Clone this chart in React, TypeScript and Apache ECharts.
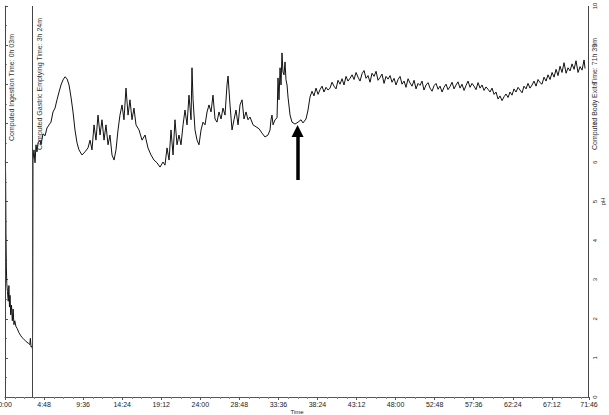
import React, { useEffect, useRef } from "react";
import * as echarts from "echarts";

// time in hours since start, pH values
const times: number[] = [
  0.05, 0.08, 0.12, 0.17, 0.22, 0.3, 0.4, 0.48, 0.55, 0.62, 0.7, 0.8, 0.9, 1.0, 1.1, 1.2, 1.35, 1.5, 1.7, 1.9, 2.1, 2.3, 2.5, 2.7, 2.9, 3.05, 3.12, 3.2, 3.3, 3.38,
  3.41, 3.44, 3.56, 3.69, 3.81, 3.93, 4.06, 4.3, 4.42, 4.67, 4.92, 5.16, 5.41, 5.65, 5.9, 6.15, 6.39, 6.64, 6.88, 7.13, 7.37, 7.62, 7.87, 8.11, 8.36, 8.6, 8.85, 9.09, 9.46, 9.83,
  10.2, 10.45, 10.69, 10.94, 11.18, 11.43, 11.68, 11.92, 12.17, 12.41, 12.66, 12.9, 13.15, 13.4, 13.64, 13.89, 14.13, 14.38, 14.62, 14.87, 15.12, 15.36, 15.61, 15.85, 16.1, 16.47, 16.84, 17.21, 17.57, 17.94,
  18.31, 18.68, 19.05, 19.42, 19.66, 19.91, 20.16, 20.4, 20.65, 20.89, 21.14, 21.38, 21.63, 21.88, 22.12, 22.37, 22.61, 22.86, 22.98, 23.11, 23.35, 23.6, 23.84, 24.09, 24.33, 24.58, 24.83, 25.07, 25.32, 25.56,
  25.81, 26.05, 26.3, 26.55, 26.79, 27.04, 27.28, 27.41, 27.65, 27.9, 28.14, 28.39, 28.64, 28.88, 29.13, 29.37, 29.62, 29.86, 30.11, 30.48, 30.85, 31.22, 31.58, 31.95, 32.32, 32.57, 32.69, 32.81, 32.94, 33.18,
  33.43, 33.55, 33.67, 33.8, 33.92, 34.04, 34.16, 34.29, 34.41, 34.53, 34.66, 34.78, 35.03, 35.27, 35.64, 36.01, 36.38, 36.62, 36.99, 37.24, 37.48, 37.73, 37.97, 38.22, 38.47, 38.71, 38.96, 39.2, 39.45, 39.7,
  39.94, 40.19, 40.43, 40.68, 40.92, 41.17, 41.42, 41.66, 41.91, 42.15, 42.4, 42.65, 42.89, 43.14, 43.38, 43.63, 43.88, 44.12, 44.37, 44.61, 44.86, 45.1, 45.35, 45.6, 45.84, 46.09, 46.33, 46.58, 46.82, 47.07,
  47.32, 47.56, 47.81, 48.05, 48.3, 48.55, 48.79, 49.04, 49.28, 49.53, 49.77, 50.02, 50.27, 50.51, 50.76, 51.0, 51.25, 51.49, 51.74, 51.99, 52.23, 52.48, 52.72, 52.97, 53.22, 53.46, 53.71, 53.95, 54.2, 54.44,
  54.69, 54.94, 55.18, 55.43, 55.67, 55.92, 56.16, 56.41, 56.66, 56.9, 57.15, 57.39, 57.64, 57.88, 58.13, 58.38, 58.62, 58.87, 59.11, 59.36, 59.61, 59.85, 60.1, 60.34, 60.59, 60.83, 61.08, 61.33, 61.57, 61.82,
  62.06, 62.31, 62.55, 62.8, 63.05, 63.29, 63.54, 63.78, 64.03, 64.27, 64.52, 64.77, 65.01, 65.26, 65.5, 65.75, 65.99, 66.24, 66.49, 66.73, 66.98, 67.23, 67.47, 67.72, 67.96, 68.21, 68.45, 68.7, 68.95, 69.19,
  69.44, 69.68, 69.93, 70.17, 70.42, 70.67, 70.91, 71.16, 71.28,
];

const phValues: number[] = [
  6.05, 5.6, 4.2, 3.3, 2.9, 2.7, 2.45, 2.85, 2.3, 2.6, 2.1, 2.35, 1.95, 2.25, 1.85, 1.95, 1.8, 1.75, 1.65, 1.58, 1.52, 1.48, 1.44, 1.4, 1.37, 1.34, 1.5, 1.28, 1.3, 1.22,
  2.6, 6.06, 6.32, 5.99, 6.45, 6.27, 6.5, 6.57, 6.45, 6.73, 6.68, 6.88, 6.96, 7.03, 7.29, 7.39, 7.6, 7.8, 7.98, 8.11, 8.19, 8.14, 7.98, 7.67, 7.29, 6.83, 6.5, 6.32, 6.19, 6.27,
  6.37, 6.57, 6.32, 6.96, 6.57, 7.21, 6.7, 7.09, 6.57, 6.96, 6.45, 6.7, 6.19, 6.06, 6.32, 6.83, 7.21, 7.47, 7.09, 7.9, 7.21, 7.6, 7.09, 7.39, 6.96, 6.83, 6.57, 6.7, 6.37, 6.19,
  6.06, 5.99, 5.88, 6.01, 5.93, 6.37, 6.06, 6.83, 6.19, 7.09, 6.45, 6.7, 6.45, 6.96, 7.34, 6.96, 7.72, 7.09, 8.42, 7.6, 6.83, 6.57, 6.45, 6.83, 7.03, 6.96, 7.29, 7.47, 7.29, 7.72,
  7.11, 7.03, 7.29, 7.11, 7.39, 7.21, 7.98, 8.21, 7.47, 6.83, 7.09, 7.34, 6.96, 7.47, 7.6, 7.11, 7.29, 7.09, 7.16, 6.96, 6.91, 6.86, 6.75, 6.65, 6.7, 6.83, 7.09, 7.21, 6.96, 7.09,
  7.14, 8.16, 7.6, 8.42, 7.98, 8.8, 8.31, 8.24, 8.57, 8.11, 7.98, 7.67, 7.21, 7.03, 6.98, 7.03, 7.09, 7.01, 7.11, 7.34, 7.67, 7.82, 7.7, 7.9, 7.74, 7.86, 7.95, 7.8, 7.92, 7.85,
  7.9, 8.05, 7.95, 7.88, 8.1, 8.0, 8.14, 7.98, 8.2, 8.08, 8.15, 8.24, 8.12, 8.3, 8.18, 8.08, 8.27, 8.35, 8.15, 8.22, 8.05, 8.28, 8.2, 8.33, 8.1, 8.17, 8.26, 8.02, 8.2, 8.13,
  8.22, 8.05, 8.15, 7.98, 8.12, 8.2, 8.0, 8.08, 7.92, 8.14, 8.03, 7.95, 8.1, 7.88, 8.02, 7.97, 8.08, 7.85, 7.98, 8.04, 7.9, 7.82, 7.96, 8.02, 7.87, 7.95, 7.8, 7.92, 8.0, 7.86,
  7.94, 8.05, 7.88, 7.98, 8.06, 7.9, 8.0, 7.84, 7.97, 8.08, 7.92, 8.02, 7.95, 7.86, 8.04, 7.9, 7.98, 7.84, 7.93, 7.87, 7.8, 7.9, 7.74, 7.8, 7.62, 7.7, 7.58, 7.68, 7.75, 7.66,
  7.8, 7.72, 7.88, 7.8, 7.92, 7.85, 7.78, 7.95, 7.88, 8.02, 7.9, 7.98, 8.08, 7.95, 8.12, 8.04, 8.0, 8.18, 8.08, 8.24, 8.12, 8.3, 8.18, 8.38, 8.22, 8.46, 8.3, 8.55, 8.28, 8.42,
  8.34, 8.52, 8.38, 8.6, 8.3, 8.45, 8.36, 8.62, 8.4,
];

// event markers (hours) and labels
const eventTimes: number[] = [0.05, 3.4, 71.65];
const eventLabels: string[] = [
  "Computed Ingestion Time: 0h 03m",
  "Computed Gastric Emptying Time: 3h 24m",
  "Computed Body Exit Time: 71h 39m",
];
const eventLabelOffsets: number[] = [28, 12, 32];

// arrow annotation: time, base pH, tip pH
const arrowTime = 35.95;
const arrowBasePH = 5.55;
const arrowTipPH = 6.8;

const X_MAX = 71 + 46 / 60;
const X_INTERVAL = 4.8;

const FONT = "'Liberation Sans Narrow', 'Liberation Sans', Arial, sans-serif";

function fmtTime(h: number): string {
  const m = Math.round(h * 60);
  return `${Math.floor(m / 60)}:${String(m % 60).padStart(2, "0")}`;
}

export default function App() {
  const ref = useRef<HTMLDivElement>(null);
  useEffect(() => {
    if (!ref.current) return;
    const chart = echarts.init(ref.current, undefined, { renderer: "svg" });
    const data = times.map((t, i) => [t, phValues[i]]);
    const eventLines = eventTimes.map((t, i) => ({
      xAxis: t,
      label: {
        show: true,
        formatter: eventLabels[i],
        position: "insideEndBottom",
        distance: [eventLabelOffsets[i], 3],
        fontSize: 7,
        fontFamily: FONT,
        color: "#333",
      },
    }));
    chart.setOption({
      animation: false,
      backgroundColor: "#fff",
      grid: { left: 5, right: 20, top: 6, bottom: 18, containLabel: false, outerBoundsMode: "none" },
      xAxis: {
        type: "value",
        min: 0,
        max: X_MAX,
        interval: X_INTERVAL,
        name: "Time",
        nameLocation: "middle",
        nameGap: 12,
        nameMoveOverlap: false,
        nameTextStyle: { fontSize: 6, fontFamily: FONT, color: "#222" },
        axisLine: { show: true, lineStyle: { color: "#555", width: 1 } },
        axisTick: { show: true, length: 3, lineStyle: { color: "#555" } },
        minorTick: { show: true, splitNumber: 4, length: 2, lineStyle: { color: "#888" } },
        axisLabel: {
          fontSize: 7,
          fontFamily: FONT,
          color: "#222",
          margin: 4,
          showMaxLabel: true,
          formatter: (v: number) => fmtTime(v),
        },
        splitLine: { show: false },
      },
      yAxis: {
        type: "value",
        position: "right",
        min: 0,
        max: 10,
        interval: 1,
        name: "pH",
        nameLocation: "middle",
        nameGap: 11,
        nameMoveOverlap: false,
        nameRotate: 90,
        nameTextStyle: { fontSize: 6, fontFamily: FONT, color: "#222" },
        axisLine: { show: true, lineStyle: { color: "#777", width: 1 } },
        axisTick: { show: true, length: 3, lineStyle: { color: "#555" } },
        minorTick: { show: true, splitNumber: 2, length: 2, lineStyle: { color: "#888" } },
        axisLabel: {
          fontSize: 6,
          fontFamily: FONT,
          color: "#222",
          margin: 3,
          rotate: 90,
        },
        splitLine: { show: false },
      },
      series: [
        {
          type: "line",
          data,
          showSymbol: false,
          symbol: "none",
          lineStyle: { color: "#111", width: 1 },
          markLine: {
            silent: true,
            symbol: "none",
            animation: false,
            lineStyle: { color: "#444", width: 1, type: "solid" },
            data: [
              ...eventLines,
              [
                {
                  coord: [arrowTime, arrowBasePH],
                  symbol: "none",
                  lineStyle: { color: "#000", width: 3.5, type: "solid" },
                  label: { show: false },
                },
                {
                  coord: [arrowTime, arrowTipPH],
                  symbol: "triangle",
                  symbolSize: [12, 12],
                },
              ],
            ],
          },
        },
      ],
    });
    return () => chart.dispose();
  }, []);
  return (
    <div
      ref={ref}
      style={{ position: "fixed", left: 0, top: 0, width: 609, height: 415, background: "#fff" }}
    />
  );
}
